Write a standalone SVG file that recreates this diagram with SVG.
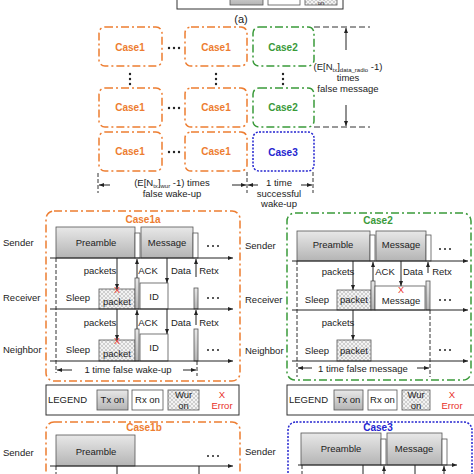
<svg xmlns="http://www.w3.org/2000/svg" width="474" height="474" viewBox="0 0 474 474">
<defs>
<linearGradient id="g" x1="0" y1="0" x2="0" y2="1"><stop offset="0" stop-color="#e8e8e8"/><stop offset="1" stop-color="#b4b4b4"/></linearGradient>
<pattern id="hatch" width="4" height="4" patternUnits="userSpaceOnUse"><rect width="4" height="4" fill="#f3f3f3"/><path d="M0,0L4,4M4,0L0,4" stroke="#aaa" stroke-width="0.5"/></pattern>
<marker id="ah" viewBox="0 0 10 10" refX="10" refY="5" markerWidth="5" markerHeight="5" orient="auto-start-reverse"><path d="M0,1L10,5L0,9z" fill="#222"/></marker>
</defs>
<style>
text{font-family:"Liberation Sans",Arial,sans-serif;font-size:9.5px;fill:#222}
.c{text-anchor:middle}
.cs{font-weight:bold;font-size:10px}
.or{fill:#ED7D31}.gr{fill:#3A9A3A}.bl{fill:#2424D0}.red{fill:#E8302A}
.xm{font-size:9px}
.ob{fill:none;stroke:#ED7D31;stroke-width:1.5;stroke-dasharray:8 3 2 3}
.gb{fill:none;stroke:#3A9A3A;stroke-width:1.5;stroke-dasharray:8 3 2 3}
.bb{fill:none;stroke:#2424D0;stroke-width:1.5;stroke-dasharray:2 1.5}
.ax{stroke:#222;stroke-width:1;fill:none;marker-end:url(#ah)}
.ln{stroke:#222;stroke-width:1;fill:none}
.dl{stroke:#333;stroke-width:1;fill:none;stroke-dasharray:4 2}
.tx{fill:url(#g);stroke:#555;stroke-width:0.8}
.rx{fill:#fff;stroke:#555;stroke-width:0.8}
.wu{fill:url(#hatch);stroke:#555;stroke-width:0.8}
.bx{fill:#fff;stroke:#333;stroke-width:1}
.d{fill:#222}
</style>

<g id="top-legend">
<rect class="bx" x="177" y="-10" width="166" height="19"/>
<rect class="tx" x="230" y="-10" width="33" height="15"/>
<rect class="rx" x="268" y="-10" width="32" height="15"/>
<rect class="wu" x="305" y="-10" width="32" height="15"/>
<text class="c" x="321" y="4.5" style="font-size:6px">on</text>
<text class="c" x="241" y="23" style="font-size:11px">(a)</text>
</g>

<g id="grid">
<g id="r1c1"><rect class="ob" x="99" y="27" width="63" height="39" rx="6"/><text class="c cs or" x="130" y="51">Case1</text></g>
<g id="r1c2"><rect class="ob" x="185" y="27" width="62" height="39" rx="6"/><text class="c cs or" x="216" y="51">Case1</text></g>
<g id="r1c3"><rect class="gb" x="253" y="27" width="61" height="39" rx="6"/><text class="c cs gr" x="283" y="51">Case2</text></g>
<g id="r2c1"><rect class="ob" x="99" y="88" width="63" height="39" rx="6"/><text class="c cs or" x="130" y="111">Case1</text></g>
<g id="r2c2"><rect class="ob" x="185" y="88" width="62" height="39" rx="6"/><text class="c cs or" x="216" y="111">Case1</text></g>
<g id="r2c3"><rect class="gb" x="253" y="88" width="61" height="39" rx="6"/><text class="c cs gr" x="283" y="111">Case2</text></g>
<g id="r3c1"><rect class="ob" x="99" y="132" width="63" height="39" rx="6"/><text class="c cs or" x="130" y="155">Case1</text></g>
<g id="r3c2"><rect class="ob" x="185" y="132" width="62" height="39" rx="6"/><text class="c cs or" x="216" y="155">Case1</text></g>
<g id="r3c3"><rect class="bb" x="253" y="132" width="61" height="39" rx="6"/><text class="c cs bl" x="283" y="156">Case3</text></g>
<g id="gdots" class="d">
<circle cx="169" cy="48" r="1.2"/><circle cx="174" cy="48" r="1.2"/><circle cx="179" cy="48" r="1.2"/>
<circle cx="169" cy="108" r="1.2"/><circle cx="174" cy="108" r="1.2"/><circle cx="179" cy="108" r="1.2"/>
<circle cx="169" cy="152" r="1.2"/><circle cx="174" cy="152" r="1.2"/><circle cx="179" cy="152" r="1.2"/>
<circle cx="130" cy="74" r="1.2"/><circle cx="130" cy="79" r="1.2"/><circle cx="130" cy="84" r="1.2"/>
<circle cx="216" cy="74" r="1.2"/><circle cx="216" cy="79" r="1.2"/><circle cx="216" cy="84" r="1.2"/>
<circle cx="283" cy="74" r="1.2"/><circle cx="283" cy="79" r="1.2"/><circle cx="283" cy="84" r="1.2"/>
</g>
</g>

<g id="dimensions">
<path class="dl" d="M314,27H370M314,127H370" style="stroke-dasharray:6 3"/>
<path class="ax" d="M346,50V28"/>
<path class="ax" d="M346,105V126"/>
<text class="c" x="348" y="70">(E[N<tspan font-size="6" dy="2">tx</tspan><tspan dy="-2">]</tspan><tspan font-size="6" dy="2">data_radio</tspan><tspan dy="-2"> -1)</tspan></text>
<text class="c" x="348" y="81">times</text>
<text class="c" x="348" y="92">false message</text>
<path class="dl" d="M98,173V193M247,172V193M313,172V193"/>
<path class="ax" d="M110,185H99"/>
<path class="ax" d="M232,185H246"/>
<text class="c" x="172" y="186">(E[N<tspan font-size="6" dy="2">tx</tspan><tspan dy="-2">]</tspan><tspan font-size="6" dy="2">wur</tspan><tspan dy="-2"> -1) times</tspan></text>
<text class="c" x="172" y="197">false wake-up</text>
<path class="ax" d="M258,185H248"/>
<path class="ax" d="M301,185H312"/>
<text class="c" x="279" y="186">1 time</text>
<text class="c" x="279" y="197">successful</text>
<text class="c" x="279" y="207">wake-up</text>
</g>

<g id="case1a">
<rect class="ob" x="46" y="211" width="194" height="170" rx="8"/>
<text class="c cs or" x="143" y="223">Case1a</text>
<text x="3" y="246">Sender</text>
<text x="3" y="301">Receiver</text>
<text x="3" y="353">Neighbor</text>
<rect class="tx" x="56" y="227" width="79" height="31"/>
<rect class="rx" x="135" y="233" width="5" height="25"/>
<rect class="tx" x="141" y="227" width="52" height="31"/>
<rect class="rx" x="193" y="233" width="5" height="25"/>
<text class="c" x="96" y="246">Preamble</text>
<text class="c" x="167" y="246">Message</text>
<path class="dl" d="M56,258V373"/>
<rect class="wu" x="99" y="289" width="36" height="20"/>
<rect class="tx" x="135" y="278" width="4" height="31"/>
<rect class="rx" x="140" y="283" width="28" height="26"/>
<rect class="tx" x="194" y="288" width="4" height="21"/>
<text class="c" x="117" y="304.5">packet</text>
<text class="c red xm" x="117" y="293">X</text>
<text class="c" x="154" y="300">ID</text>
<text class="c" x="78" y="301">Sleep</text>
<rect class="wu" x="99" y="340" width="36" height="21"/>
<rect class="tx" x="135" y="329" width="4" height="32"/>
<rect class="rx" x="140" y="334" width="28" height="27"/>
<rect class="tx" x="194" y="329" width="4" height="32"/>
<text class="c" x="117" y="356.5">packet</text>
<text class="c red xm" x="117" y="344">X</text>
<text class="c" x="154" y="351">ID</text>
<text class="c" x="78" y="353">Sleep</text>
<text class="c" x="100" y="274">packets</text>
<text class="c" x="148" y="274">ACK</text>
<text class="c" x="181" y="274">Data</text>
<text class="c" x="209" y="274">Retx</text>
<text class="c" x="100" y="326">packets</text>
<text class="c" x="148" y="326">ACK</text>
<text class="c" x="181" y="326">Data</text>
<text class="c" x="209" y="326">Retx</text>
<g class="d"><circle cx="208" cy="246" r="1"/><circle cx="213" cy="246" r="1"/><circle cx="218" cy="246" r="1"/>
<circle cx="208" cy="298" r="1"/><circle cx="213" cy="298" r="1"/><circle cx="218" cy="298" r="1"/>
<circle cx="208" cy="350" r="1"/><circle cx="213" cy="350" r="1"/><circle cx="218" cy="350" r="1"/></g>
<text class="c" x="128" y="373">1 time false wake-up</text>
<path class="dl" d="M197,361V376"/>
</g>

<g id="case1b">
<rect class="ob" x="46" y="422" width="194" height="80" rx="8"/>
<text class="c cs or" x="144" y="431">Case1b</text>
<text x="3" y="456">Sender</text>
<rect class="tx" x="56" y="435" width="79" height="31"/>
<text class="c" x="96" y="455">Preamble</text>
<g class="d"><circle cx="208" cy="456" r="1"/><circle cx="213" cy="456" r="1"/><circle cx="218" cy="456" r="1"/></g>
<path class="dl" d="M56,466V476"/>
<path class="ln" d="M117,466V476M199,466V476"/>
</g>

<g id="case2">
<rect class="gb" x="287" y="213" width="184" height="167" rx="8"/>
<text class="c cs gr" x="378" y="224">Case2</text>
<text x="245" y="249">Sender</text>
<text x="245" y="303">Receiver</text>
<text x="245" y="354">Neighbor</text>
<rect class="tx" x="297" y="231" width="73" height="30"/>
<rect class="rx" x="370" y="235" width="5" height="26"/>
<rect class="tx" x="376" y="231" width="50" height="30"/>
<rect class="rx" x="426" y="235" width="5" height="26"/>
<text class="c" x="333" y="248">Preamble</text>
<text class="c" x="401" y="248">Message</text>
<path class="dl" d="M297,261V377M430,310V377"/>
<rect class="wu" x="337" y="290" width="34" height="20"/>
<rect class="tx" x="371" y="281" width="4" height="29"/>
<rect class="rx" x="375" y="286" width="50" height="24"/>
<rect class="tx" x="426" y="281" width="4" height="29"/>
<text class="c" x="354" y="303">packet</text>
<text class="c red xm" x="401" y="293">X</text>
<text class="c" x="401" y="304">Message</text>
<text class="c" x="317" y="303">Sleep</text>
<rect class="wu" x="337" y="340" width="34" height="21"/>
<text class="c" x="354" y="354">packet</text>
<text class="c" x="317" y="354">Sleep</text>
<text class="c" x="338" y="275">packets</text>
<text class="c" x="385" y="275">ACK</text>
<text class="c" x="413" y="275">Data</text>
<text class="c" x="442" y="275">Retx</text>
<text class="c" x="338" y="326">packets</text>
<g class="d"><circle cx="440" cy="249" r="1"/><circle cx="445" cy="249" r="1"/><circle cx="450" cy="249" r="1"/>
<circle cx="440" cy="300" r="1"/><circle cx="445" cy="300" r="1"/><circle cx="450" cy="300" r="1"/>
<circle cx="440" cy="350" r="1"/><circle cx="445" cy="350" r="1"/><circle cx="450" cy="350" r="1"/></g>
<text class="c" x="363" y="372">1 time false message</text>
</g>

<g id="case3">
<rect class="bb" x="288" y="422" width="184" height="80" rx="8"/>
<text class="c cs bl" x="378" y="431">Case3</text>
<text x="245" y="455">Sender</text>
<rect class="tx" x="301" y="433" width="80" height="32"/>
<rect class="rx" x="381" y="439" width="5" height="26"/>
<rect class="tx" x="387" y="433" width="55" height="32"/>
<rect class="rx" x="442" y="439" width="5" height="26"/>
<text class="c" x="341" y="452">Preamble</text>
<text class="c" x="414" y="452">Message</text>
<path class="dl" d="M302,465V476"/>
<path class="ln" d="M363,465V476M415,465V476"/>
</g>

<g id="legend-left">
<rect class="bx" x="46" y="385" width="193" height="30"/>
<text x="48" y="403">LEGEND</text>
<rect class="tx" x="97" y="390" width="31" height="20"/><text class="c" x="112.5" y="403">Tx on</text>
<rect class="rx" x="132" y="390" width="31" height="20"/><text class="c" x="147.5" y="403">Rx on</text>
<rect class="wu" x="168" y="390" width="31" height="20"/><text class="c" x="183.5" y="398">Wur</text><text class="c" x="183.5" y="409">on</text>
<text class="c red" x="222" y="398">X</text><text class="c red" x="222" y="409">Error</text>
</g>

<g id="legend-right">
<rect class="bx" x="287" y="385" width="192" height="30"/>
<text x="289" y="403">LEGEND</text>
<rect class="tx" x="334" y="390" width="29" height="20"/><text class="c" x="348.5" y="403">Tx on</text>
<rect class="rx" x="368" y="390" width="29" height="20"/><text class="c" x="382.5" y="403">Rx on</text>
<rect class="wu" x="402" y="390" width="28" height="20"/><text class="c" x="416" y="398">Wur</text><text class="c" x="416" y="409">on</text>
<text class="c red" x="452" y="398">X</text><text class="c red" x="452" y="409">Error</text>
</g>

<g id="connectors">
<path class="ax" d="M50,258H233"/>
<path class="ax" d="M50,309H233"/>
<path class="ax" d="M50,361H233"/>
<path class="ax" d="M117,258V289"/>
<path class="ax" d="M137,278V259"/>
<path class="ax" d="M167,258V283"/>
<path class="ax" d="M196,277V259"/>
<path class="ax" d="M117,309V340"/>
<path class="ax" d="M137,329V310"/>
<path class="ax" d="M167,309V334"/>
<path class="ax" d="M196,325V310"/>
<path class="ax" d="M72,370H57"/>
<path class="ax" d="M183,370H196"/>
<path class="ax" d="M50,466H233"/>
<path class="ax" d="M292,261H468"/>
<path class="ax" d="M292,310H468"/>
<path class="ax" d="M292,361H468"/>
<path class="ax" d="M353,261V290"/>
<path class="ax" d="M373,281V262"/>
<path class="ax" d="M401,261V286"/>
<path class="ax" d="M428,273V262"/>
<path class="ax" d="M353,310V340"/>
<path class="ax" d="M312,368H298"/>
<path class="ax" d="M417,368H429"/>
<path class="ax" d="M298,465H457"/>
<path class="ax" d="M384,476V466"/>
<path class="ax" d="M444,476V466"/>
</g>
</svg>
